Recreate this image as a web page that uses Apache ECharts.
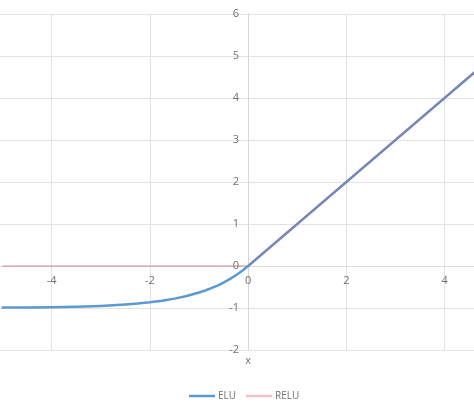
<!DOCTYPE html>
<html>
<head>
<meta charset="utf-8">
<script src="https://cdn.jsdelivr.net/npm/echarts@6/dist/echarts.min.js"></script>
<style>html,body{margin:0;padding:0;background:#fff}#c{width:474px;height:415px}</style>
</head>
<body>
<div id="c"></div>
<script>
const eluX = [-5, -4.5, -4, -3.5, -3, -2.75, -2.5, -2.25, -2, -1.75, -1.5, -1.25, -1, -0.875, -0.75, -0.625, -0.5, -0.375, -0.25, -0.125, 0, 1, 2, 3, 4, 4.6];
const eluY = [-0.99, -0.99, -0.98, -0.97, -0.95, -0.936, -0.918, -0.895, -0.865, -0.826, -0.777, -0.713, -0.632, -0.583, -0.528, -0.465, -0.393, -0.313, -0.221, -0.118, 0, 1, 2, 3, 4, 4.6];
const reluX = [-5, 0, 4.6];
const reluY = [0, 0, 4.6];
const xTicks = [-4, -2, 0, 2, 4];
const yTicks = [-2, -1, 0, 1, 2, 3, 4, 5, 6];

const chart = echarts.init(document.getElementById('c'));
const txt = '#707070';
chart.setOption({
  animation: false,
  grid: { left: -46.5, right: 0, top: 14, bottom: 65, containLabel: false, outerBoundsMode: 'none' },
  legend: {
    bottom: 9, left: 184, itemWidth: 26, itemHeight: 2.5, itemGap: 10,
    textStyle: { color: txt, fontSize: 10, fontFamily: 'Open Sans', padding: [0, 0, 0, -2] },
    data: [
      { name: 'ELU', icon: 'rect', itemStyle: { color: '#5a9ad2' } },
      { name: 'RELU', icon: 'rect', itemStyle: { color: 'rgba(225,120,130,0.45)' } }
    ]
  },
  xAxis: {
    type: 'value', min: -6, max: 4.6, interval: 2,
    position: 'bottom', offset: -84,
    axisLine: { show: true, onZero: false, lineStyle: { color: '#dcdcdc' } },
    axisTick: { show: false },
    splitLine: { show: true, lineStyle: { color: '#e2e2e2' } },
    axisLabel: {
      color: txt, fontSize: 11, fontFamily: 'Open Sans', margin: 9,
      showMaxLabel: false,
      formatter: v => xTicks.includes(v) ? String(v) : ''
    }
  },
  yAxis: {
    type: 'value', min: -2, max: 6, interval: 1,
    position: 'left', offset: -294.6,
    name: 'x', nameLocation: 'start', nameGap: 5,
    nameTextStyle: { color: txt, fontSize: 11, fontFamily: 'Open Sans', verticalAlign: 'top' },
    axisLine: { show: true, onZero: false, lineStyle: { color: '#d6d6d6' } },
    axisTick: { show: false },
    splitLine: { show: true, lineStyle: { color: '#e2e2e2' } },
    axisLabel: {
      color: txt, fontSize: 11, fontFamily: 'Open Sans', margin: 9,
      formatter: v => yTicks.includes(v) ? String(v) : ''
    }
  },
  series: [
    {
      name: 'ELU', type: 'line', smooth: false, symbol: 'none',
      data: eluX.map((x, i) => [x, eluY[i]]),
      lineStyle: { color: '#5a9ad2', width: 2.5, join: 'round', cap: 'round' }, itemStyle: { color: '#5a9ad2' }
    },
    {
      name: 'RELU', type: 'line', symbol: 'none',
      data: reluX.map((x, i) => [x, reluY[i]]),
      lineStyle: { color: 'rgba(205,90,110,0.45)', width: 1.6 }, itemStyle: { color: 'rgba(225,120,130,0.45)' }
    }
  ]
});
</script>
</body>
</html>
